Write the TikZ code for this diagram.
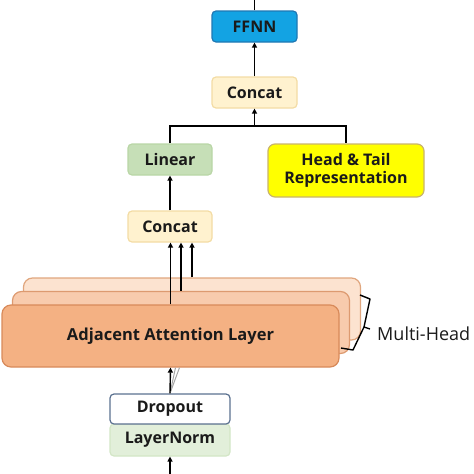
\documentclass[tikz,border=0pt]{standalone}
\usepackage{fontspec}
\setmainfont{Open Sans}
\usetikzlibrary{arrows.meta,positioning,calc}
\definecolor{ffnnfill}{HTML}{13A3E3}
\definecolor{ffnndraw}{HTML}{1F78B4}
\definecolor{catfill}{HTML}{FFF2CF}
\definecolor{catdraw}{HTML}{F3DCA4}
\definecolor{linfill}{HTML}{C6DFB7}
\definecolor{lindraw}{HTML}{B9D6A6}
\definecolor{htfill}{HTML}{FFFF00}
\definecolor{htdraw}{HTML}{C9B46A}
\definecolor{l1fill}{HTML}{F4B183}
\definecolor{l1draw}{HTML}{D88A5A}
\definecolor{l2fill}{HTML}{F8CBAD}
\definecolor{l2draw}{HTML}{DD9A70}
\definecolor{l3fill}{HTML}{FCE3D0}
\definecolor{l3draw}{HTML}{E0A67E}
\definecolor{dropdraw}{HTML}{5B7190}
\definecolor{lnfill}{HTML}{E2EFDA}
\definecolor{lndraw}{HTML}{D3E6C6}
\definecolor{txt}{HTML}{1A1A1A}
\tikzset{
  box/.style={rounded corners=4pt, line width=1.2pt, inner sep=0pt, align=center,
     font=\fontsize{16}{19}\selectfont\bfseries, text=txt},
  layer/.style={rounded corners=9pt, line width=1.2pt, minimum width=337pt, minimum height=62pt, inner sep=0pt},
  arr/.style={line width=1.4pt, -{Triangle[length=5pt,width=5pt]}},
  conn/.style={line width=1.4pt},
}
\begin{document}
\begin{tikzpicture}[x=1pt,y=-1pt]
\useasboundingbox (0,0) rectangle (474,474);
% nodes
\node[box, fill=ffnnfill, draw=ffnndraw, minimum width=85pt, minimum height=31pt] (ffnn) at (254.5,26.5) {FFNN};
\node[box, fill=catfill, draw=catdraw, minimum width=85pt, minimum height=31pt] (cat2) at (254.5,92.5) {Concat};
\node[box, fill=linfill, draw=lindraw, minimum width=84pt, minimum height=31pt] (lin) at (170,159.5) {Linear};
\node[box, fill=htfill, draw=htdraw, minimum width=156pt, minimum height=53pt, rounded corners=7pt] (ht) at (346,170.5) {Head \& Tail\\[-1pt]Representation};
\node[box, fill=catfill, draw=catdraw, minimum width=84pt, minimum height=31pt] (cat1) at (170,226.5) {Concat};
% layers
\node[layer, fill=l3fill, draw=l3draw] (back) at (192,309) {};
\node[layer, fill=l2fill, draw=l2draw] (mid) at (181,322.5) {};
\node[layer, fill=l1fill, draw=l1draw, font=\fontsize{16.5}{19}\selectfont\bfseries, text=txt] (front) at (170.5,336) {Adjacent Attention Layer};
% dropout / layernorm
\node[box, fill=lnfill, draw=lndraw, minimum width=120pt, minimum height=32pt] (ln) at (170,440) {LayerNorm};
\node[box, fill=white, draw=dropdraw, minimum width=120pt, minimum height=30pt] (drop) at (170,409) {Dropout};
% connectors
\coordinate (top) at (255,0);
\draw[conn] (ffnn.north) -- (ffnn.north |- top);
\draw[arr] (cat2.north) -- (ffnn.south);
\coordinate (junc) at (254.5,126);
\draw[conn] (lin.north) |- (junc) -| (ht.north);
\draw[arr] (junc) -- (cat2.south);
\draw[arr] (cat1.north) -- (lin.south);
\draw[arr] (front.north) -- (front.north |- cat1.south);
\draw[arr] (mid.north) -- (mid.north |- cat1.south);
\draw[arr] (back.north) -- (back.north |- cat1.south);
\draw[line width=1pt, gray!70] (drop.north) -- ($(front.south)+(9,0)$);
\draw[line width=1pt, gray!70] (drop.north) -- ($(front.south)+(5,0)$);
\draw[arr] (drop.north) -- (front.south);
\coordinate (bot) at (170,474);
\draw[arr] (bot) -- (ln.south);
% brace
\coordinate (b1) at (360,295);
\coordinate (b2) at (370,299);
\coordinate (b3) at (364,327);
\coordinate (b4) at (370,329);
\coordinate (b5) at (353,350);
\coordinate (b6) at (341,348);
\draw[line width=1.4pt, line join=round] (b1) -- (b2) -- (b3) -- (b5) -- (b6);
\draw[line width=1.4pt] (b3) -- (b4);
\node[anchor=west, inner sep=0pt, font=\fontsize{18}{21}\selectfont, text=txt] (mh) at (377,334) {Multi-Head};
\end{tikzpicture}
\end{document}
